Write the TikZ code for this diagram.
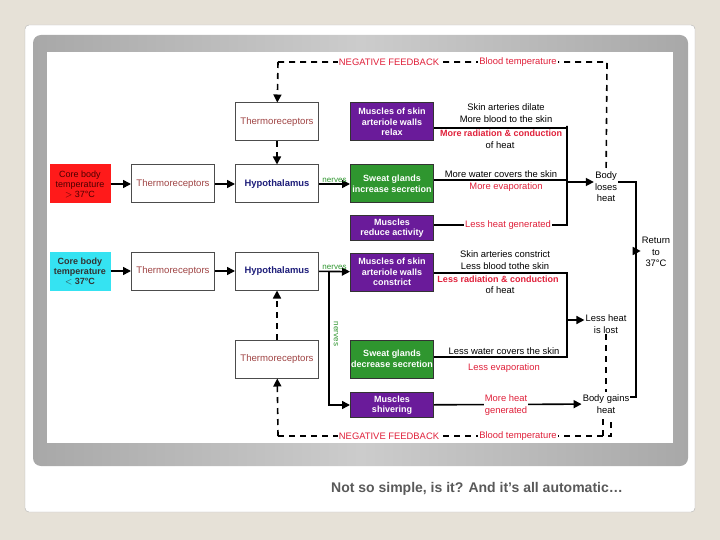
\documentclass[tikz,border=0pt]{standalone}
\usepackage{fontspec}
\setmainfont{Liberation Sans}
\usetikzlibrary{positioning,arrows.meta,calc}
\definecolor{beige}{HTML}{E6E1D7}
\definecolor{panel}{HTML}{A8A8A8}
\definecolor{hotred}{HTML}{FF1A1A}
\definecolor{coldcyan}{HTML}{35E3F2}
\definecolor{musclepurple}{HTML}{6A1B9A}
\definecolor{sweatgreen}{HTML}{2F962F}
\definecolor{redtext}{HTML}{E0203A}
\definecolor{brown}{HTML}{A04545}
\definecolor{navy}{HTML}{1E1E7A}
\tikzset{
  box/.style={draw=black!70, line width=1pt, fill=white, minimum width=83pt, minimum height=38pt, inner sep=1pt, font=\fontsize{9.6}{10.5}\selectfont},
  effector/.style={box, draw=black!80, text=white, font=\fontsize{9}{10.5}\selectfont\bfseries, align=center},
  lbl/.style={fill=white, inner sep=1pt, align=center, font=\fontsize{9.4}{11.5}\selectfont},
  arr/.style={-{Triangle[length=8pt,width=8pt]}, line width=1.6pt},
  ln/.style={line width=1.6pt},
  fb/.style={line width=1.6pt, dash pattern=on 6pt off 5pt}
}
\begin{document}
\begin{tikzpicture}[x=1pt,y=-1pt]
  % slide frame
  \fill[beige] (0,0) rectangle (720,540);
  \fill[white, draw=black!30, rounded corners=4pt] (25,25) rectangle (695,512);
  \shade[left color=panel, right color=panel, middle color=black!20, rounded corners=8pt] (33,35) rectangle (688,466);
  \fill[white] (47,52) rectangle (673,443);

  % hot side
  \node[box, fill=hotred, draw=hotred, minimum width=60pt, align=center, text=black!70!red, font=\fontsize{9}{10}\selectfont] (hot) at (80,184) {Core body\\temperature\\$>$ 37°C};
  \node[box, text=brown] (recA) at (173,184) {Thermoreceptors};
  \node[box, text=navy, font=\fontsize{9.4}{10.5}\selectfont\bfseries] (hypA) at (277,184) {Hypothalamus};
  \node[box, text=brown] (recB) at (277,122) {Thermoreceptors};
  \node[effector, fill=musclepurple, minimum height=38pt] (relax) at (392,122) {Muscles of skin\\arteriole walls\\relax};
  \node[effector, fill=sweatgreen] (sweatA) at (392,184) {Sweat glands\\increase secretion};
  \node[effector, fill=musclepurple, minimum height=25pt] (reduce) at (392,228) {Muscles\\reduce activity};
  \node[lbl] (loses) at (606,187) {Body\\loses\\heat};

  % cold side
  \node[box, fill=coldcyan, draw=coldcyan, minimum width=60pt, align=center, text=black!80, font=\fontsize{9}{10}\selectfont\bfseries] (cold) at (80,271) {Core body\\temperature\\$<$ 37°C};
  \node[box, text=brown] (recC) at (173,271) {Thermoreceptors};
  \node[box, text=navy, font=\fontsize{9.4}{10.5}\selectfont\bfseries] (hypB) at (277,271) {Hypothalamus};
  \node[box, text=brown] (recD) at (277,359) {Thermoreceptors};
  \node[effector, fill=musclepurple] (constrict) at (392,272) {Muscles of skin\\arteriole walls\\constrict};
  \node[effector, fill=sweatgreen] (sweatB) at (392,359) {Sweat glands\\decrease secretion};
  \node[effector, fill=musclepurple, minimum height=25pt] (shiver) at (392,405) {Muscles\\shivering};
  \node[lbl] (lost) at (606,324) {Less heat\\is lost};
  \node[lbl] (gains) at (606,404) {Body gains\\heat};
  \node[lbl] (back) at (656,252) {Return\\to\\37°C};

  % helper points
  \coordinate (topL) at (278,62);
  \coordinate (topR) at (607,62);
  \coordinate (botL) at (278,436);
  \coordinate (botR) at (611,436);
  \coordinate (joinA) at (567,126);
  \coordinate (joinB) at (567,225);
  \coordinate (joinC) at (567,273);
  \coordinate (joinD) at (567,357);
  \coordinate (split) at (329,271);

  % hot pathway
  \draw[arr] (hot) -- (recA);
  \draw[arr] (recA) -- (hypA);
  \draw[arr, fb] (recB) -- (hypA);
  \draw[arr] (hypA) -- node[above, text=sweatgreen, font=\fontsize{8}{8}\selectfont, inner sep=1pt] {nerves} (sweatA);
  \draw[ln] (relax.east |- 0,128) -| (joinA) -- (joinB) -- (reduce.east |- joinB);
  \draw[ln] (sweatA.east |- 0,180) -- (567,180);
  \draw[arr] (567,182) -- (loses.west |- 0,182);
  \draw[ln] (loses.east |- 0,182) -- (636,182) -- (636,397) -- (gains.east |- 0,397);
  \draw[arr] (636,251) -- (back.west |- 0,251);

  % cold pathway
  \draw[arr] (cold) -- (recC);
  \draw[arr] (recC) -- (hypB);
  \draw[arr, fb] (recD) -- (hypB);
  \draw[arr] (hypB) -- node[above, text=sweatgreen, font=\fontsize{8}{8}\selectfont, inner sep=1pt] {nerves} (constrict);
  \draw[arr] (split) |- (shiver);
  \node[rotate=-90, text=sweatgreen, font=\fontsize{8}{8}\selectfont] (nervesB) at (336,334) {nerves};
  \draw[ln] (constrict.east |- joinC) -| (joinD) -- (sweatB.east |- joinD);
  \draw[arr] (567,320) -- (lost.west |- 0,320);
  \draw[arr] (shiver) -- (gains);
  \draw[fb] (lost) -- (606,392);

  % feedback loops
  \draw[arr, fb] (topL) -- (recB);
  \draw[fb] (topL) -- (topR) -- (loses);
  \draw[arr, fb] (botL) -- (recD);
  \draw[fb] (botL) -- (botR) -- (611,418);
  \draw[fb] (603,436) -- (603,418);

  % labels on top of lines
  \node[lbl, text=redtext] (nfTop) at (389,62) {NEGATIVE FEEDBACK};
  \node[lbl, text=redtext] (btTop) at (518,62) {Blood temperature};
  \node[lbl, text=redtext] (nfBot) at (389,436) {NEGATIVE FEEDBACK};
  \node[lbl, text=redtext] (btBot) at (518,436) {Blood temperature};
  \node[lbl] (dilate) at (506,113) {Skin arteries dilate\\More blood to the skin};
  \node[lbl, text=redtext, font=\fontsize{9}{11}\selectfont\bfseries] (radA) at (501,133) {More radiation \& conduction};
  \node[lbl] (heatA) at (500,145) {of heat};
  \node[lbl] (waterA) at (501,174) {More water covers the skin};
  \node[lbl, text=redtext] (evapA) at (506,187) {More evaporation};
  \node[lbl, text=redtext] (lessgen) at (508,225) {Less heat generated};
  \node[lbl] (constr) at (505,260) {Skin arteries constrict\\Less blood tothe skin};
  \node[lbl, text=redtext, font=\fontsize{9}{11}\selectfont\bfseries] (radB) at (498,279) {Less radiation \& conduction};
  \node[lbl] (heatB) at (500,290) {of heat};
  \node[lbl] (waterB) at (504,351) {Less water covers the skin};
  \node[lbl, text=redtext] (evapB) at (504,368) {Less evaporation};
  \node[lbl, text=redtext] (moregen) at (506,405) {More heat\\generated};

  % caption
  \node[text=black!65, font=\fontsize{14}{16}\selectfont\bfseries] (caption) at (477,489) {Not so simple, is it? And it’s all automatic…};
\end{tikzpicture}
\end{document}
